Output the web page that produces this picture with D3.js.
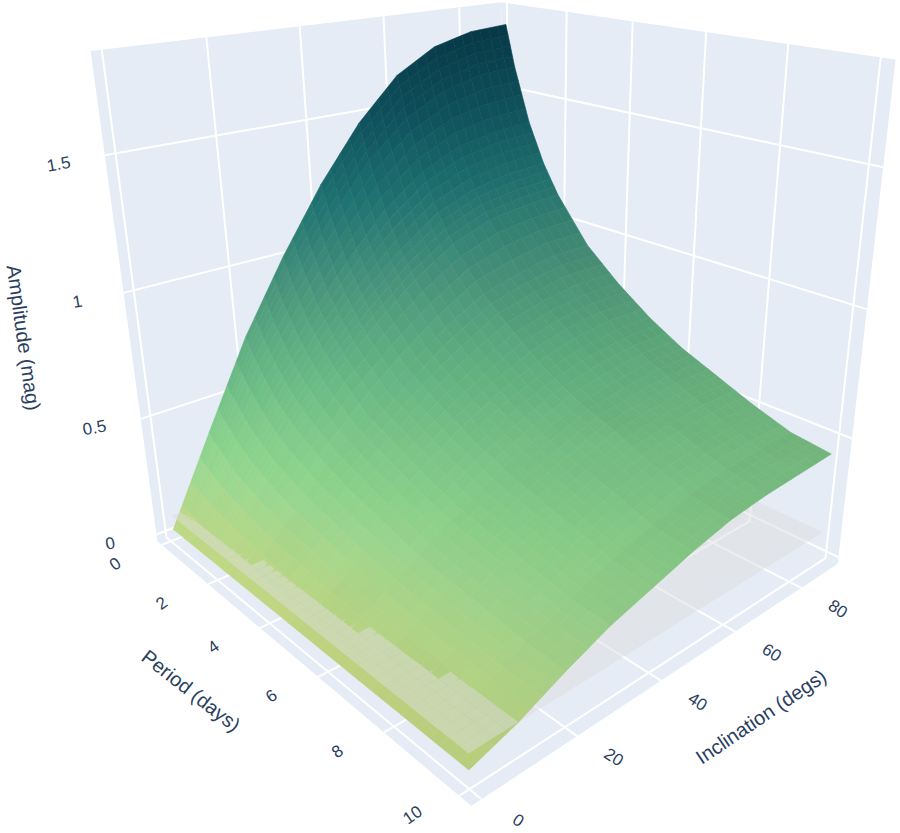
<!DOCTYPE html>
<html><head><meta charset="utf-8">
<script src="https://cdn.jsdelivr.net/npm/d3@7"></script>
<style>body{margin:0;background:#fff}svg{display:block}</style>
</head><body><svg id="c" width="900" height="833"></svg>
<script>
// ---- data ----
const periods = [0.2,0.5,1,1.5,2,3,4,5,6,7,8,9,10];
const inclinations = [0,10,20,30,40,50,60,70,80,90];
const amplitude = [
 [0.04,0.39,0.73,1.01,1.26,1.47,1.63,1.72,1.76,1.77],
 [0.04,0.35,0.66,0.91,1.14,1.33,1.47,1.55,1.59,1.60],
 [0.04,0.30,0.57,0.79,0.98,1.15,1.27,1.34,1.37,1.38],
 [0.04,0.27,0.50,0.70,0.87,1.01,1.12,1.18,1.21,1.22],
 [0.04,0.24,0.45,0.63,0.78,0.91,1.01,1.07,1.09,1.10],
 [0.04,0.20,0.38,0.52,0.65,0.76,0.85,0.89,0.92,0.92],
 [0.04,0.18,0.33,0.46,0.57,0.66,0.74,0.78,0.80,0.80],
 [0.04,0.15,0.29,0.40,0.50,0.58,0.64,0.68,0.70,0.70],
 [0.04,0.14,0.25,0.35,0.44,0.51,0.57,0.60,0.62,0.62],
 [0.04,0.12,0.23,0.32,0.40,0.46,0.52,0.54,0.56,0.56],
 [0.04,0.11,0.21,0.29,0.36,0.42,0.46,0.49,0.50,0.50],
 [0.04,0.10,0.19,0.26,0.32,0.37,0.41,0.44,0.45,0.45],
 [0.04,0.10,0.18,0.25,0.30,0.35,0.39,0.41,0.42,0.43]
];
const planeLevel = 0.1;
const periodTicks = [0,2,4,6,8,10];
const inclTicks = [0,20,40,60,80];
const ampTicks = [0,0.5,1,1.5];
const ampTickLabels = ["0","0.5","1","1.5"];
const emrld = ['#d3f2a3','#97e196','#6cc08b','#4c9b82','#217a79','#105965','#074050'];

// ---- scales ----
const sx = d3.scaleLinear().domain([-0.2,10.3]).range([0,1]);
const sy = d3.scaleLinear().domain([-2,92]).range([0,1]);
const sz = d3.scaleLinear().domain([-0.03,1.85]).range([0,1]);
const flat = amplitude.flat();
const color = d3.scaleLinear().domain(d3.range(emrld.length).map(k=>d3.min(flat)+k*(d3.max(flat)-d3.min(flat))/(emrld.length-1))).range(emrld).interpolate(d3.interpolateRgb);

// ---- camera calibration (projective map from box corners) ----
const corr = [
 [[0,0,0],[160,545]],[[1,0,0],[468,806]],[[1,1,0],[838,562]],
 [[0,0,1],[92,56]],[[1,1,1],[897,61]],[[0,1,1],[500,2]],
 [[0,0,sz(1.5)],[104,147]],[[0,0,sz(0.5)],[140,418]],
 [[sx(2),1,1],[565,12]],[[sx(8),1,1],[790,45]]
];
function solve(){
  const rows=[],rhs=[];
  corr.forEach(([[X,Y,Z],[u,v]])=>{
    rows.push([X,Y,Z,1,0,0,0,0,-u*X,-u*Y,-u*Z]);rhs.push(u);
    rows.push([0,0,0,0,X,Y,Z,1,-v*X,-v*Y,-v*Z]);rhs.push(v);
  });
  const n=11,A=[];
  for(let i=0;i<n;i++){A.push(new Array(n+1).fill(0));
    for(let j=0;j<n;j++) for(let r=0;r<rows.length;r++) A[i][j]+=rows[r][i]*rows[r][j];
    for(let r=0;r<rows.length;r++) A[i][n]+=rows[r][i]*rhs[r];}
  for(let c=0;c<n;c++){let p=c;for(let r=c+1;r<n;r++) if(Math.abs(A[r][c])>Math.abs(A[p][c]))p=r;
    [A[c],A[p]]=[A[p],A[c]];
    for(let r=0;r<n;r++) if(r!==c){const f=A[r][c]/A[c][c];for(let k=c;k<=n;k++)A[r][k]-=f*A[c][k];}}
  return A.map((r,i)=>r[n]/r[i]);
}
const M=solve();
function proj(X,Y,Z){const w=M[8]*X+M[9]*Y+M[10]*Z+1;
  return [(M[0]*X+M[1]*Y+M[2]*Z+M[3])/w,(M[4]*X+M[5]*Y+M[6]*Z+M[7])/w,w];}
const wFront=proj(1,0,0)[2], wBack=proj(0,1,1)[2];
const farSign = wBack>wFront?1:-1;

const svg=d3.select('#c');
const wallC='#e5ecf6';
const line=(a,b)=>{const p=proj(...a),q=proj(...b);return `M${p[0]},${p[1]}L${q[0]},${q[1]}`;};
const poly=pts=>'M'+pts.map(p=>{const q=proj(...p);return q[0]+','+q[1];}).join('L')+'Z';
// walls
svg.append('path').attr('d',poly([[0,0,0],[1,0,0],[1,1,0],[0,1,0]])).attr('fill',wallC);
svg.append('path').attr('d',poly([[0,0,0],[0,1,0],[0,1,1],[0,0,1]])).attr('fill',wallC);
svg.append('path').attr('d',poly([[0,1,0],[1,1,0],[1,1,1],[0,1,1]])).attr('fill',wallC);
const g=svg.append('g').attr('stroke','#fff').attr('stroke-width',2).attr('fill','none');
periodTicks.forEach(p=>{const X=sx(p);g.append('path').attr('d',line([X,0,0],[X,1,0]));g.append('path').attr('d',line([X,1,0],[X,1,1]));});
inclTicks.forEach(i=>{const Y=sy(i);g.append('path').attr('d',line([0,Y,0],[1,Y,0]));g.append('path').attr('d',line([0,Y,0],[0,Y,1]));});
ampTicks.forEach(a=>{const Z=sz(a);g.append('path').attr('d',line([0,0,Z],[0,1,Z]));g.append('path').attr('d',line([0,1,Z],[1,1,Z]));});

// ---- surface + plane cells ----
const SUB=4, cells=[];
const L=(()=>{const v=[0.6,-0.7,0.6];const n=Math.hypot(...v);return v.map(d=>d/n);})();
function bil(a,b,c,d,s,t){return a*(1-s)*(1-t)+b*s*(1-t)+c*(1-s)*t+d*s*t;}
for(let r=0;r<periods.length-1;r++)for(let c=0;c<inclinations.length-1;c++){
  for(let a=0;a<SUB;a++)for(let b=0;b<SUB;b++){
    const pt=(s,t)=>{const P=periods[r]+(periods[r+1]-periods[r])*s, I=inclinations[c]+(inclinations[c+1]-inclinations[c])*t;
      const z=bil(amplitude[r][c],amplitude[r+1][c],amplitude[r][c+1],amplitude[r+1][c+1],s,t);return [sx(P),sy(I),sz(z),z];};
    const q=[pt(a/SUB,b/SUB),pt((a+1)/SUB,b/SUB),pt((a+1)/SUB,(b+1)/SUB),pt(a/SUB,(b+1)/SUB)];
    const u=[q[2][0]-q[0][0],q[2][1]-q[0][1],q[2][2]-q[0][2]], v=[q[3][0]-q[1][0],q[3][1]-q[1][1],q[3][2]-q[1][2]];
    let nn=[u[1]*v[2]-u[2]*v[1],u[2]*v[0]-u[0]*v[2],u[0]*v[1]-u[1]*v[0]];const nl=Math.hypot(...nn);nn=nn.map(d=>d/nl);
    const dot=Math.abs(nn[0]*L[0]+nn[1]*L[1]+nn[2]*L[2]);
    const zc=d3.mean(q,d=>d[3]);
    const base=d3.rgb(color(zc)); const f=Math.min(1.0,0.66+0.3*dot);
    let col=d3.rgb(base.r*f,base.g*f,base.b*f);
    const low=Math.max(0,1-zc/0.25); col=d3.rgb(col.r+4*low,col.g-6*low,col.b-22*low);
    col=col.formatHex();
    const pp=q.map(d=>proj(d[0],d[1],d[2]));
    cells.push({pts:pp,depth:d3.mean(pp,d=>d[2])*farSign,fill:col,op:1});
    const pz=sz(planeLevel);
    const qq=q.map(d=>proj(d[0],d[1],pz));
    cells.push({pts:qq,depth:d3.mean(qq,d=>d[2])*farSign,fill:'rgb(222,222,222)',op:0.5,plane:true});
  }
}
cells.sort((a,b)=>b.depth-a.depth);
const sg=svg.append('g');
sg.selectAll('path').data(cells).join('path')
 .attr('d',d=>'M'+d.pts.map(p=>p[0]+','+p[1]).join('L')+'Z')
 .attr('fill',d=>d.fill).attr('fill-opacity',d=>d.op)
 .attr('stroke',d=>d.plane?'none':d.fill).attr('stroke-width',d=>d.plane?0:0.6);

// ---- tick labels ----
const txt=svg.append('g').attr('font-family','"Liberation Sans", Arial, sans-serif').attr('fill','#2a3f5f');
periodTicks.forEach(p=>{const q=proj(sx(p),0,0);
  txt.append('text').attr('transform',`translate(${q[0]-46},${q[1]+20}) rotate(-35)`).attr('text-anchor','middle').attr('dominant-baseline','middle').attr('font-size',17).text(p);});
inclTicks.forEach(i=>{const q=proj(1,sy(i),0);
  txt.append('text').attr('transform',`translate(${q[0]+36},${q[1]+22}) rotate(33)`).attr('text-anchor','middle').attr('dominant-baseline','middle').attr('font-size',17).text(i);});
ampTicks.forEach((a,k)=>{const q=proj(0,0,sz(a));
  txt.append('text').attr('transform',`translate(${q[0]-46},${q[1]+10}) rotate(-10)`).attr('text-anchor','middle').attr('dominant-baseline','middle').attr('font-size',17).text(ampTickLabels[k]);});
txt.append('text').attr('transform','translate(22,338) rotate(82)').attr('text-anchor','middle').attr('dominant-baseline','middle').attr('font-size',20).text('Amplitude (mag)');
txt.append('text').attr('transform','translate(190,692) rotate(38)').attr('text-anchor','middle').attr('dominant-baseline','middle').attr('font-size',20).text('Period (days)');
txt.append('text').attr('transform','translate(762,718) rotate(-34)').attr('text-anchor','middle').attr('dominant-baseline','middle').attr('font-size',20).text('Inclination (degs)');
</script></body></html>
